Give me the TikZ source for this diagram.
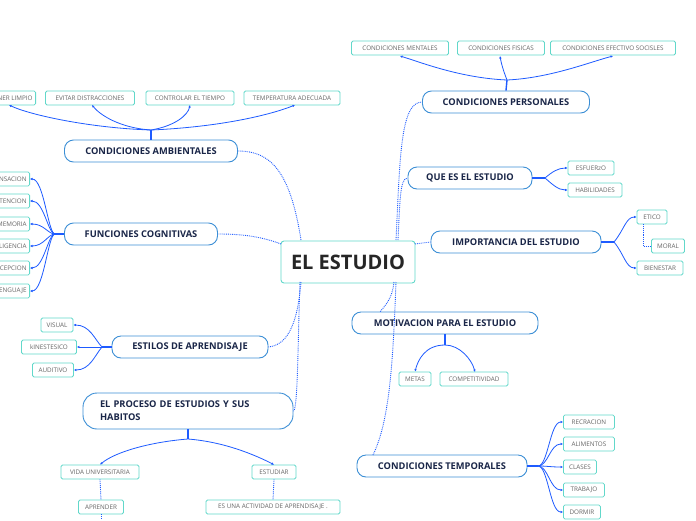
\documentclass[tikz,border=0pt]{standalone}
\usepackage{fontspec}
\setmainfont{Open Sans}
\usetikzlibrary{arrows.meta}
\definecolor{mainb}{HTML}{3C8FD6}
\definecolor{navy}{HTML}{1A2648}
\definecolor{leafb}{HTML}{62D8CA}
\definecolor{leaft}{HTML}{666666}
\definecolor{conn}{HTML}{1E5BFF}
\begin{document}
\begin{tikzpicture}[x=1pt,y=-1pt,
  mainn/.style={draw=mainb,line width=0.9pt,fill=white,rounded corners=9pt,font=\fontsize{9.3}{13}\selectfont\bfseries,text=navy,minimum height=22pt,inner xsep=6pt},
  leaf/.style={draw=leafb,line width=0.8pt,fill=white,rounded corners=1.5pt,font=\fontsize{6.3}{7}\selectfont,text=leaft,minimum height=14pt,inner xsep=3pt},
  br/.style={draw=conn,line width=0.8pt},
  ar/.style={br,-{Latex[length=2.5pt,width=2.5pt]}},
  dot/.style={draw=conn,line width=0.9pt,densely dotted}]
\fill[white] (0,0) rectangle (696,520);
\clip (0,0) rectangle (696,520);
% central
\node[draw=leafb,line width=0.9pt,rounded corners=3pt,minimum width=134pt,minimum height=42pt,font=\fontsize{20}{22}\selectfont\bfseries,text=black!85] (c) at (348,262) {EL ESTUDIO};
% main nodes
\node[mainn,minimum width=173pt] (amb) at (151,151) {CONDICIONES AMBIENTALES};
\node[mainn,minimum width=153pt] (cog) at (141,234) {FUNCIONES COGNITIVAS};
\node[mainn,minimum width=156pt] (est) at (190,347) {ESTILOS DE APRENDISAJE};
\node[mainn,minimum width=210pt,minimum height=36pt,rounded corners=14pt,align=left,text width=176pt] (pro) at (188,411) {EL PROCESO DE ESTUDIOS Y SUS\\HABITOS};
\node[mainn,minimum width=167pt] (per) at (506,102) {CONDICIONES PERSONALES};
\node[mainn,minimum width=124pt] (que) at (470,178) {QUE ES EL ESTUDIO};
\node[mainn,minimum width=170pt] (imp) at (516,242) {IMPORTANCIA DEL ESTUDIO};
\node[mainn,minimum width=186pt] (mot) at (445,323) {MOTIVACION PARA EL ESTUDIO};
\node[mainn,minimum width=170pt] (tem) at (442,466) {CONDICIONES TEMPORALES};
% central connectors
\draw[dot] (301,240) .. controls (290,170) and (270,151) .. (amb.east);
\draw[dot] (281,244) .. controls (260,236) and (240,234) .. (cog.east);
\draw[dot] (301,282) .. controls (297,330) and (285,345) .. (est.east);
\draw[dot] (300,282) .. controls (298,330) and (298,411) .. (pro.east);
\draw[dot] (396,240) .. controls (400,160) and (400,102) .. (per.west);
\draw[dot] (398,240) .. controls (400,200) and (400,178) .. (que.west);
\draw[dot] (415,244) -- (imp.west);
\draw[dot] (394,282) .. controls (392,300) and (385,305) .. (380,312);
\draw[dot] (396,282) .. controls (393,360) and (390,420) .. (373,455);
% ambientales leaves
\node[leaf,anchor=east] (a1) at (36,98) {MANTENER LIMPIO};
\node[leaf,minimum width=89pt] (a2) at (90,98) {EVITAR DISTRACCIONES};
\node[leaf,minimum width=88pt] (a3) at (190,98) {CONTROLAR EL TIEMPO};
\node[leaf,minimum width=96pt] (a4) at (292,98) {TEMPERATURA ADECUADA};
\coordinate (ja) at (151,130);
\draw[br,line width=1.4pt] (amb.north) -- (ja);
\draw[ar] (ja) .. controls (90,128) and (30,115) .. (9,105);
\draw[ar] (ja) .. controls (120,128) and (100,115) .. (92,105);
\draw[ar] (ja) .. controls (175,126) and (188,115) .. (190,105);
\draw[ar] (ja) .. controls (220,127) and (270,115) .. (295,105);
% cognitive
\coordinate (jc) at (55,234);
\draw[br,line width=1.4pt] (cog.west) -- (jc);
\foreach \t/\yy [count=\i] in {SENSACION/179,ATENCION/201,MEMORIA/224,INTELIGENCIA/246,PERCEPCION/268,LENGUAJE/291}{
  \node[leaf,anchor=east] (g\i) at (30,\yy) {\t};
  \draw[ar] (jc) .. controls (48,234) and (44,\yy) .. (g\i.east);
}
% estilos
\coordinate (je) at (102,347);
\draw[br,line width=1.4pt] (est.west) -- (je);
\node[leaf,minimum width=32pt] (e1) at (57,325) {VISUAL};
\node[leaf,minimum width=55pt] (e2) at (49,347) {kINESTESICO};
\node[leaf,minimum width=41pt] (e3) at (53,370) {AUDITIVO};
\draw[ar] (je) .. controls (95,340) and (90,325) .. (e1.east);
\draw[ar] (je) -- (e2.east);
\draw[ar] (je) .. controls (95,355) and (90,370) .. (e3.east);
% proceso
\coordinate (jp) at (188,439);
\draw[br,line width=1.4pt] (pro.south) -- (jp);
\node[leaf,minimum width=78pt] (p1) at (100,472) {VIDA UNIVERSITARIA};
\node[leaf,minimum width=44pt] (p2) at (274,472) {ESTUDIAR};
\node[leaf,minimum width=45pt] (p3) at (101,507) {APRENDER};
\node[leaf,minimum width=134pt] (p4) at (273,507) {ES UNA ACTIVIDAD DE APRENDISAJE .};
\draw[ar] (jp) .. controls (150,442) and (115,452) .. (p1.north);
\draw[ar] (jp) .. controls (225,442) and (255,455) .. (p2.north);
\draw[dot] (p1.south) -- (p3.north);
\draw[dot] (p2.south) -- (p4.north);
\draw[dot] (p3.south) -- (101,520);
% personales
\node[leaf,minimum width=97pt] (r1) at (400,48) {CONDICIONES MENTALES};
\node[leaf,minimum width=87pt] (r2) at (501,48) {CONDICIONES FISICAS};
\node[leaf,minimum width=125pt] (r3) at (613,48) {CONDICIONES EFECTIVO SOCISLES};
\coordinate (jr) at (507,80);
\draw[br,line width=1.4pt] (per.north) -- (jr);
\draw[ar] (jr) .. controls (460,78) and (420,62) .. (400,56);
\draw[ar] (jr) .. controls (503,70) and (501,62) .. (500,56);
\draw[ar] (jr) .. controls (550,78) and (590,62) .. (613,56);
% que es
\coordinate (jq) at (545,178);
\draw[br,line width=1.4pt] (que.east) -- (jq);
\node[leaf,minimum width=46pt] (q1) at (591,168) {ESFUERzO};
\node[leaf,minimum width=54pt] (q2) at (595,190) {HABILIDADES};
\draw[ar] (jq) .. controls (552,172) and (558,168) .. (q1.west);
\draw[ar] (jq) .. controls (552,184) and (558,190) .. (q2.west);
% importancia
\coordinate (ji) at (614,242);
\draw[br,line width=1.4pt] (imp.east) -- (ji);
\node[leaf,minimum width=30pt] (i1) at (652,217) {ETICO};
\node[leaf,minimum width=33pt] (i2) at (668,246) {MORAL};
\node[leaf,minimum width=46pt] (i3) at (660,268) {BIENESTAR};
\draw[ar] (ji) .. controls (624,230) and (626,217) .. (i1.west);
\draw[ar] (ji) .. controls (624,254) and (626,268) .. (i3.west);
\draw[dot] (643,224) |- (i2.west);
% motivacion
\coordinate (jm) at (445,345);
\draw[br,line width=1.4pt] (mot.south) -- (jm);
\node[leaf,minimum width=32pt] (m1) at (415,379) {METAS};
\node[leaf,minimum width=68pt] (m2) at (474,379) {COMPETITIVIDAD};
\draw[ar] (jm) .. controls (425,345) and (418,360) .. (m1.north);
\draw[ar] (jm) .. controls (460,345) and (472,360) .. (475,372);
% temporales
\coordinate (jt) at (538,466);
\draw[br,line width=1.4pt] (tem.east) -- (jt);
\foreach \t/\yy/\w [count=\i] in {RECRACION/422/51,ALIMENTOS/444/51,CLASES/467/33,TRABAJO/490/41,DORMIR/512/37}{
  \node[leaf,anchor=west,minimum width=\w pt] (t\i) at (563,\yy) {\t};
  \draw[ar] (jt) .. controls (548,466) and (550,\yy) .. (t\i.west);
}
\end{tikzpicture}
\end{document}
